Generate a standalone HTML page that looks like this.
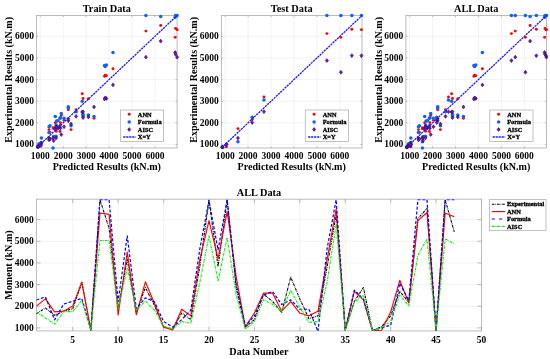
<!DOCTYPE html>
<html><head><meta charset="utf-8"><title>Results</title>
<style>
html,body{margin:0;padding:0;background:#fff;overflow:hidden;}
svg{display:block;}
text{font-family:"Liberation Serif", "Times New Roman", serif;font-weight:bold;fill:#000000;}
.tk{font-size:9.5px;}
.ttl{font-size:10.3px;}
.lab{font-size:10.1px;}
.lg{font-size:6.4px;stroke:#000;stroke-width:0.3px;}
</style></head><body>
<svg width="550" height="359" viewBox="0 0 550 359">
<rect width="550" height="359" fill="#fff"/>
<line x1="40.28" y1="15.5" x2="40.28" y2="148.0" stroke="#ebebeb" stroke-width="0.6"/>
<line x1="36.5" y1="144.43" x2="177.10" y2="144.43" stroke="#ebebeb" stroke-width="0.6"/>
<line x1="63.22" y1="15.5" x2="63.22" y2="148.0" stroke="#ebebeb" stroke-width="0.6"/>
<line x1="36.5" y1="122.82" x2="177.10" y2="122.82" stroke="#ebebeb" stroke-width="0.6"/>
<line x1="86.16" y1="15.5" x2="86.16" y2="148.0" stroke="#ebebeb" stroke-width="0.6"/>
<line x1="36.5" y1="101.20" x2="177.10" y2="101.20" stroke="#ebebeb" stroke-width="0.6"/>
<line x1="109.09" y1="15.5" x2="109.09" y2="148.0" stroke="#ebebeb" stroke-width="0.6"/>
<line x1="36.5" y1="79.59" x2="177.10" y2="79.59" stroke="#ebebeb" stroke-width="0.6"/>
<line x1="132.03" y1="15.5" x2="132.03" y2="148.0" stroke="#ebebeb" stroke-width="0.6"/>
<line x1="36.5" y1="57.97" x2="177.10" y2="57.97" stroke="#ebebeb" stroke-width="0.6"/>
<line x1="154.97" y1="15.5" x2="154.97" y2="148.0" stroke="#ebebeb" stroke-width="0.6"/>
<line x1="36.5" y1="36.36" x2="177.10" y2="36.36" stroke="#ebebeb" stroke-width="0.6"/>
<rect x="36.5" y="15.5" width="140.6" height="132.5" fill="none" stroke="#b4b4b4" stroke-width="0.9"/>
<path d="M40.28 148.0v-1.5M40.28 15.5v1.5M36.5 144.43h1.5M177.10 144.43h-1.5" stroke="#a0a0a0" stroke-width="0.7"/>
<path d="M63.22 148.0v-1.5M63.22 15.5v1.5M36.5 122.82h1.5M177.10 122.82h-1.5" stroke="#a0a0a0" stroke-width="0.7"/>
<path d="M86.16 148.0v-1.5M86.16 15.5v1.5M36.5 101.20h1.5M177.10 101.20h-1.5" stroke="#a0a0a0" stroke-width="0.7"/>
<path d="M109.09 148.0v-1.5M109.09 15.5v1.5M36.5 79.59h1.5M177.10 79.59h-1.5" stroke="#a0a0a0" stroke-width="0.7"/>
<path d="M132.03 148.0v-1.5M132.03 15.5v1.5M36.5 57.97h1.5M177.10 57.97h-1.5" stroke="#a0a0a0" stroke-width="0.7"/>
<path d="M154.97 148.0v-1.5M154.97 15.5v1.5M36.5 36.36h1.5M177.10 36.36h-1.5" stroke="#a0a0a0" stroke-width="0.7"/>
<text x="40.28" y="158.60" text-anchor="middle" class="tk">1000</text>
<text x="33.90" y="147.43" text-anchor="end" class="tk">1000</text>
<text x="63.22" y="158.60" text-anchor="middle" class="tk">2000</text>
<text x="33.90" y="125.82" text-anchor="end" class="tk">2000</text>
<text x="86.16" y="158.60" text-anchor="middle" class="tk">3000</text>
<text x="33.90" y="104.20" text-anchor="end" class="tk">3000</text>
<text x="109.09" y="158.60" text-anchor="middle" class="tk">4000</text>
<text x="33.90" y="82.59" text-anchor="end" class="tk">4000</text>
<text x="132.03" y="158.60" text-anchor="middle" class="tk">5000</text>
<text x="33.90" y="60.97" text-anchor="end" class="tk">5000</text>
<text x="154.97" y="158.60" text-anchor="middle" class="tk">6000</text>
<text x="33.90" y="39.36" text-anchor="end" class="tk">6000</text>
<text x="106.80" y="12.2" text-anchor="middle" class="ttl">Train Data</text>
<text x="106.80" y="170.3" text-anchor="middle" class="lab">Predicted Results (kN.m)</text>
<text transform="translate(12.10,79.8) rotate(-90)" text-anchor="middle" class="lab">Experimental Results (kN.m)</text>
<circle cx="55.28" cy="122.67" r="1.45" fill="#ff0000"/>
<circle cx="61.27" cy="115.49" r="1.45" fill="#ff0000"/>
<circle cx="53.66" cy="128.46" r="1.45" fill="#ff0000"/>
<circle cx="58.04" cy="127.70" r="1.45" fill="#ff0000"/>
<circle cx="60.47" cy="122.67" r="1.45" fill="#ff0000"/>
<circle cx="88.41" cy="98.70" r="1.45" fill="#ff0000"/>
<circle cx="37.76" cy="146.81" r="1.45" fill="#ff0000"/>
<circle cx="177.10" cy="29.79" r="1.45" fill="#ff0000"/>
<circle cx="145.88" cy="31.11" r="1.45" fill="#ff0000"/>
<circle cx="60.01" cy="131.46" r="1.45" fill="#ff0000"/>
<circle cx="112.99" cy="68.74" r="1.45" fill="#ff0000"/>
<circle cx="56.20" cy="131.29" r="1.45" fill="#ff0000"/>
<circle cx="83.06" cy="98.46" r="1.45" fill="#ff0000"/>
<circle cx="64.05" cy="120.16" r="1.45" fill="#ff0000"/>
<circle cx="41.43" cy="143.72" r="1.45" fill="#ff0000"/>
<circle cx="39.05" cy="146.57" r="1.45" fill="#ff0000"/>
<circle cx="56.04" cy="125.82" r="1.45" fill="#ff0000"/>
<circle cx="49.05" cy="132.42" r="1.45" fill="#ff0000"/>
<circle cx="106.34" cy="75.81" r="1.45" fill="#ff0000"/>
<circle cx="175.15" cy="37.35" r="1.45" fill="#ff0000"/>
<circle cx="105.19" cy="75.31" r="1.45" fill="#ff0000"/>
<circle cx="175.61" cy="28.47" r="1.45" fill="#ff0000"/>
<circle cx="82.21" cy="93.70" r="1.45" fill="#ff0000"/>
<circle cx="41.04" cy="143.35" r="1.45" fill="#ff0000"/>
<circle cx="49.05" cy="129.58" r="1.45" fill="#ff0000"/>
<circle cx="76.07" cy="109.78" r="1.45" fill="#ff0000"/>
<circle cx="68.31" cy="109.70" r="1.45" fill="#ff0000"/>
<circle cx="56.64" cy="127.70" r="1.45" fill="#ff0000"/>
<circle cx="94.02" cy="118.28" r="1.45" fill="#ff0000"/>
<circle cx="71.02" cy="129.58" r="1.45" fill="#ff0000"/>
<circle cx="50.03" cy="132.42" r="1.45" fill="#ff0000"/>
<circle cx="53.04" cy="127.70" r="1.45" fill="#ff0000"/>
<circle cx="104.51" cy="76.35" r="1.45" fill="#ff0000"/>
<circle cx="160.70" cy="25.55" r="1.45" fill="#ff0000"/>
<circle cx="38.06" cy="146.53" r="1.45" fill="#ff0000"/>
<circle cx="68.31" cy="107.90" r="1.45" fill="#ff0000"/>
<circle cx="83.06" cy="116.40" r="1.45" fill="#ff0000"/>
<circle cx="55.28" cy="116.55" r="1.75" fill="#1060ff"/>
<circle cx="61.27" cy="113.50" r="1.75" fill="#1060ff"/>
<circle cx="53.66" cy="136.41" r="1.75" fill="#1060ff"/>
<circle cx="58.04" cy="120.66" r="1.75" fill="#1060ff"/>
<circle cx="60.47" cy="117.78" r="1.75" fill="#1060ff"/>
<circle cx="88.41" cy="115.04" r="1.75" fill="#1060ff"/>
<circle cx="37.76" cy="146.81" r="1.75" fill="#1060ff"/>
<circle cx="177.10" cy="15.50" r="1.75" fill="#1060ff"/>
<circle cx="145.88" cy="15.50" r="1.75" fill="#1060ff"/>
<circle cx="60.01" cy="118.28" r="1.75" fill="#1060ff"/>
<circle cx="112.99" cy="52.50" r="1.75" fill="#1060ff"/>
<circle cx="56.20" cy="125.11" r="1.75" fill="#1060ff"/>
<circle cx="83.06" cy="114.50" r="1.75" fill="#1060ff"/>
<circle cx="64.05" cy="118.28" r="1.75" fill="#1060ff"/>
<circle cx="41.43" cy="138.06" r="1.75" fill="#1060ff"/>
<circle cx="39.05" cy="143.72" r="1.75" fill="#1060ff"/>
<circle cx="56.04" cy="136.18" r="1.75" fill="#1060ff"/>
<circle cx="49.05" cy="126.75" r="1.75" fill="#1060ff"/>
<circle cx="106.34" cy="65.00" r="1.75" fill="#1060ff"/>
<circle cx="175.15" cy="17.16" r="1.75" fill="#1060ff"/>
<circle cx="105.19" cy="66.62" r="1.75" fill="#1060ff"/>
<circle cx="175.61" cy="15.50" r="1.75" fill="#1060ff"/>
<circle cx="82.21" cy="101.20" r="1.75" fill="#1060ff"/>
<circle cx="41.04" cy="142.77" r="1.75" fill="#1060ff"/>
<circle cx="49.05" cy="132.42" r="1.75" fill="#1060ff"/>
<circle cx="76.07" cy="111.69" r="1.75" fill="#1060ff"/>
<circle cx="68.31" cy="108.10" r="1.75" fill="#1060ff"/>
<circle cx="56.64" cy="121.11" r="1.75" fill="#1060ff"/>
<circle cx="94.02" cy="116.40" r="1.75" fill="#1060ff"/>
<circle cx="71.02" cy="125.82" r="1.75" fill="#1060ff"/>
<circle cx="50.03" cy="125.82" r="1.75" fill="#1060ff"/>
<circle cx="53.04" cy="148.00" r="1.75" fill="#1060ff"/>
<circle cx="104.51" cy="65.54" r="1.75" fill="#1060ff"/>
<circle cx="160.70" cy="16.60" r="1.75" fill="#1060ff"/>
<circle cx="38.06" cy="146.53" r="1.75" fill="#1060ff"/>
<circle cx="68.31" cy="106.69" r="1.75" fill="#1060ff"/>
<circle cx="83.06" cy="115.45" r="1.75" fill="#1060ff"/>
<path d="M55.28 126.56L56.80 128.46L55.28 130.36L53.76 128.46Z" fill="#7414c8" stroke="#2a0a4a" stroke-width="0.6"/>
<path d="M61.27 132.68L62.79 134.58L61.27 136.48L59.75 134.58Z" fill="#7414c8" stroke="#2a0a4a" stroke-width="0.6"/>
<path d="M53.66 138.77L55.18 140.67L53.66 142.57L52.14 140.67Z" fill="#7414c8" stroke="#2a0a4a" stroke-width="0.6"/>
<path d="M58.04 126.26L59.56 128.16L58.04 130.06L56.52 128.16Z" fill="#7414c8" stroke="#2a0a4a" stroke-width="0.6"/>
<path d="M60.47 126.26L61.99 128.16L60.47 130.06L58.95 128.16Z" fill="#7414c8" stroke="#2a0a4a" stroke-width="0.6"/>
<path d="M88.41 115.13L89.93 117.03L88.41 118.93L86.89 117.03Z" fill="#7414c8" stroke="#2a0a4a" stroke-width="0.6"/>
<path d="M37.76 144.91L39.28 146.81L37.76 148.71L36.24 146.81Z" fill="#7414c8" stroke="#2a0a4a" stroke-width="0.6"/>
<path d="M177.10 55.25L178.62 57.15L177.10 59.05L175.58 57.15Z" fill="#7414c8" stroke="#2a0a4a" stroke-width="0.6"/>
<path d="M145.88 55.25L147.40 57.15L145.88 59.05L144.36 57.15Z" fill="#7414c8" stroke="#2a0a4a" stroke-width="0.6"/>
<path d="M60.01 123.92L61.53 125.82L60.01 127.72L58.49 125.82Z" fill="#7414c8" stroke="#2a0a4a" stroke-width="0.6"/>
<path d="M112.99 83.07L114.51 84.97L112.99 86.87L111.47 84.97Z" fill="#7414c8" stroke="#2a0a4a" stroke-width="0.6"/>
<path d="M56.20 124.87L57.72 126.77L56.20 128.67L54.68 126.77Z" fill="#7414c8" stroke="#2a0a4a" stroke-width="0.6"/>
<path d="M83.06 115.82L84.58 117.72L83.06 119.62L81.54 117.72Z" fill="#7414c8" stroke="#2a0a4a" stroke-width="0.6"/>
<path d="M64.05 124.85L65.57 126.75L64.05 128.65L62.53 126.75Z" fill="#7414c8" stroke="#2a0a4a" stroke-width="0.6"/>
<path d="M41.43 140.87L42.95 142.77L41.43 144.67L39.91 142.77Z" fill="#7414c8" stroke="#2a0a4a" stroke-width="0.6"/>
<path d="M39.05 143.70L40.57 145.60L39.05 147.50L37.53 145.60Z" fill="#7414c8" stroke="#2a0a4a" stroke-width="0.6"/>
<path d="M56.04 136.16L57.56 138.06L56.04 139.96L54.52 138.06Z" fill="#7414c8" stroke="#2a0a4a" stroke-width="0.6"/>
<path d="M49.05 138.06L50.57 139.96L49.05 141.86L47.53 139.96Z" fill="#7414c8" stroke="#2a0a4a" stroke-width="0.6"/>
<path d="M106.34 96.60L107.86 98.50L106.34 100.40L104.82 98.50Z" fill="#7414c8" stroke="#2a0a4a" stroke-width="0.6"/>
<path d="M175.15 50.52L176.67 52.42L175.15 54.32L173.63 52.42Z" fill="#7414c8" stroke="#2a0a4a" stroke-width="0.6"/>
<path d="M105.19 95.91L106.71 97.81L105.19 99.71L103.67 97.81Z" fill="#7414c8" stroke="#2a0a4a" stroke-width="0.6"/>
<path d="M175.61 52.40L177.13 54.30L175.61 56.20L174.09 54.30Z" fill="#7414c8" stroke="#2a0a4a" stroke-width="0.6"/>
<path d="M82.21 110.11L83.73 112.01L82.21 113.91L80.69 112.01Z" fill="#7414c8" stroke="#2a0a4a" stroke-width="0.6"/>
<path d="M41.04 143.70L42.56 145.60L41.04 147.50L39.52 145.60Z" fill="#7414c8" stroke="#2a0a4a" stroke-width="0.6"/>
<path d="M49.05 136.16L50.57 138.06L49.05 139.96L47.53 138.06Z" fill="#7414c8" stroke="#2a0a4a" stroke-width="0.6"/>
<path d="M76.07 114.50L77.59 116.40L76.07 118.30L74.55 116.40Z" fill="#7414c8" stroke="#2a0a4a" stroke-width="0.6"/>
<path d="M68.31 118.97L69.83 120.87L68.31 122.77L66.79 120.87Z" fill="#7414c8" stroke="#2a0a4a" stroke-width="0.6"/>
<path d="M56.64 125.80L58.16 127.70L56.64 129.60L55.12 127.70Z" fill="#7414c8" stroke="#2a0a4a" stroke-width="0.6"/>
<path d="M94.02 105.07L95.54 106.97L94.02 108.87L92.50 106.97Z" fill="#7414c8" stroke="#2a0a4a" stroke-width="0.6"/>
<path d="M71.02 122.04L72.54 123.94L71.02 125.84L69.50 123.94Z" fill="#7414c8" stroke="#2a0a4a" stroke-width="0.6"/>
<path d="M50.03 137.11L51.55 139.01L50.03 140.91L48.51 139.01Z" fill="#7414c8" stroke="#2a0a4a" stroke-width="0.6"/>
<path d="M53.04 136.16L54.56 138.06L53.04 139.96L51.52 138.06Z" fill="#7414c8" stroke="#2a0a4a" stroke-width="0.6"/>
<path d="M104.51 97.14L106.03 99.04L104.51 100.94L102.99 99.04Z" fill="#7414c8" stroke="#2a0a4a" stroke-width="0.6"/>
<path d="M160.70 39.21L162.22 41.11L160.70 43.01L159.18 41.11Z" fill="#7414c8" stroke="#2a0a4a" stroke-width="0.6"/>
<path d="M38.06 144.63L39.58 146.53L38.06 148.43L36.54 146.53Z" fill="#7414c8" stroke="#2a0a4a" stroke-width="0.6"/>
<path d="M68.31 116.90L69.83 118.80L68.31 120.70L66.79 118.80Z" fill="#7414c8" stroke="#2a0a4a" stroke-width="0.6"/>
<path d="M83.06 109.79L84.58 111.69L83.06 113.59L81.54 111.69Z" fill="#7414c8" stroke="#2a0a4a" stroke-width="0.6"/>
<line x1="36.5" y1="148.0" x2="177.10" y2="15.5" stroke="#1a1aff" stroke-width="1.3" stroke-dasharray="2.2 0.8"/>
<rect x="120.40" y="110.0" width="43.2" height="31.5" fill="#fff" stroke="#b4b4b4" stroke-width="0.8"/>
<circle cx="129.20" cy="114.30" r="1.45" fill="#ff0000"/>
<circle cx="129.20" cy="121.90" r="1.75" fill="#1060ff"/>
<path d="M129.20 127.60L130.72 129.50L129.20 131.40L127.68 129.50Z" fill="#7414c8" stroke="#2a0a4a" stroke-width="0.6"/>
<line x1="123.20" y1="137.0" x2="135.70" y2="137.0" stroke="#1a1aff" stroke-width="1.3" stroke-dasharray="2.2 0.8"/>
<text x="137.80" y="116.50" class="lg">ANN</text>
<text x="137.80" y="124.10" class="lg">Formula</text>
<text x="137.80" y="131.70" class="lg">AISC</text>
<text x="137.80" y="139.20" class="lg">X=Y</text>
<line x1="225.18" y1="15.5" x2="225.18" y2="148.0" stroke="#ebebeb" stroke-width="0.6"/>
<line x1="221.4" y1="144.43" x2="362.00" y2="144.43" stroke="#ebebeb" stroke-width="0.6"/>
<line x1="248.12" y1="15.5" x2="248.12" y2="148.0" stroke="#ebebeb" stroke-width="0.6"/>
<line x1="221.4" y1="122.82" x2="362.00" y2="122.82" stroke="#ebebeb" stroke-width="0.6"/>
<line x1="271.06" y1="15.5" x2="271.06" y2="148.0" stroke="#ebebeb" stroke-width="0.6"/>
<line x1="221.4" y1="101.20" x2="362.00" y2="101.20" stroke="#ebebeb" stroke-width="0.6"/>
<line x1="293.99" y1="15.5" x2="293.99" y2="148.0" stroke="#ebebeb" stroke-width="0.6"/>
<line x1="221.4" y1="79.59" x2="362.00" y2="79.59" stroke="#ebebeb" stroke-width="0.6"/>
<line x1="316.93" y1="15.5" x2="316.93" y2="148.0" stroke="#ebebeb" stroke-width="0.6"/>
<line x1="221.4" y1="57.97" x2="362.00" y2="57.97" stroke="#ebebeb" stroke-width="0.6"/>
<line x1="339.87" y1="15.5" x2="339.87" y2="148.0" stroke="#ebebeb" stroke-width="0.6"/>
<line x1="221.4" y1="36.36" x2="362.00" y2="36.36" stroke="#ebebeb" stroke-width="0.6"/>
<rect x="221.4" y="15.5" width="140.6" height="132.5" fill="none" stroke="#b4b4b4" stroke-width="0.9"/>
<path d="M225.18 148.0v-1.5M225.18 15.5v1.5M221.4 144.43h1.5M362.00 144.43h-1.5" stroke="#a0a0a0" stroke-width="0.7"/>
<path d="M248.12 148.0v-1.5M248.12 15.5v1.5M221.4 122.82h1.5M362.00 122.82h-1.5" stroke="#a0a0a0" stroke-width="0.7"/>
<path d="M271.06 148.0v-1.5M271.06 15.5v1.5M221.4 101.20h1.5M362.00 101.20h-1.5" stroke="#a0a0a0" stroke-width="0.7"/>
<path d="M293.99 148.0v-1.5M293.99 15.5v1.5M221.4 79.59h1.5M362.00 79.59h-1.5" stroke="#a0a0a0" stroke-width="0.7"/>
<path d="M316.93 148.0v-1.5M316.93 15.5v1.5M221.4 57.97h1.5M362.00 57.97h-1.5" stroke="#a0a0a0" stroke-width="0.7"/>
<path d="M339.87 148.0v-1.5M339.87 15.5v1.5M221.4 36.36h1.5M362.00 36.36h-1.5" stroke="#a0a0a0" stroke-width="0.7"/>
<text x="225.18" y="158.60" text-anchor="middle" class="tk">1000</text>
<text x="218.80" y="147.43" text-anchor="end" class="tk">1000</text>
<text x="248.12" y="158.60" text-anchor="middle" class="tk">2000</text>
<text x="218.80" y="125.82" text-anchor="end" class="tk">2000</text>
<text x="271.06" y="158.60" text-anchor="middle" class="tk">3000</text>
<text x="218.80" y="104.20" text-anchor="end" class="tk">3000</text>
<text x="293.99" y="158.60" text-anchor="middle" class="tk">4000</text>
<text x="218.80" y="82.59" text-anchor="end" class="tk">4000</text>
<text x="316.93" y="158.60" text-anchor="middle" class="tk">5000</text>
<text x="218.80" y="60.97" text-anchor="end" class="tk">5000</text>
<text x="339.87" y="158.60" text-anchor="middle" class="tk">6000</text>
<text x="218.80" y="39.36" text-anchor="end" class="tk">6000</text>
<text x="291.70" y="12.2" text-anchor="middle" class="ttl">Test Data</text>
<text x="291.70" y="170.3" text-anchor="middle" class="lab">Predicted Results (kN.m)</text>
<text transform="translate(197.00,79.8) rotate(-90)" text-anchor="middle" class="lab">Experimental Results (kN.m)</text>
<circle cx="222.32" cy="147.24" r="1.45" fill="#ff0000"/>
<circle cx="226.40" cy="146.81" r="1.45" fill="#ff0000"/>
<circle cx="237.94" cy="128.65" r="1.45" fill="#ff0000"/>
<circle cx="263.95" cy="96.97" r="1.45" fill="#ff0000"/>
<circle cx="252.20" cy="119.51" r="1.45" fill="#ff0000"/>
<circle cx="340.90" cy="37.33" r="1.45" fill="#ff0000"/>
<circle cx="351.84" cy="29.23" r="1.45" fill="#ff0000"/>
<circle cx="222.43" cy="147.14" r="1.45" fill="#ff0000"/>
<circle cx="361.43" cy="29.81" r="1.45" fill="#ff0000"/>
<circle cx="326.91" cy="33.59" r="1.45" fill="#ff0000"/>
<circle cx="222.32" cy="147.35" r="1.75" fill="#1060ff"/>
<circle cx="226.40" cy="144.22" r="1.75" fill="#1060ff"/>
<circle cx="237.94" cy="141.84" r="1.75" fill="#1060ff"/>
<circle cx="263.95" cy="99.91" r="1.75" fill="#1060ff"/>
<circle cx="252.20" cy="117.20" r="1.75" fill="#1060ff"/>
<circle cx="340.90" cy="15.50" r="1.75" fill="#1060ff"/>
<circle cx="351.84" cy="15.50" r="1.75" fill="#1060ff"/>
<circle cx="222.43" cy="147.24" r="1.75" fill="#1060ff"/>
<circle cx="361.43" cy="15.50" r="1.75" fill="#1060ff"/>
<circle cx="326.91" cy="15.50" r="1.75" fill="#1060ff"/>
<path d="M222.32 145.34L223.84 147.24L222.32 149.14L220.80 147.24Z" fill="#7414c8" stroke="#2a0a4a" stroke-width="0.6"/>
<path d="M226.40 142.51L227.92 144.41L226.40 146.31L224.88 144.41Z" fill="#7414c8" stroke="#2a0a4a" stroke-width="0.6"/>
<path d="M237.94 136.16L239.46 138.06L237.94 139.96L236.42 138.06Z" fill="#7414c8" stroke="#2a0a4a" stroke-width="0.6"/>
<path d="M263.95 109.79L265.47 111.69L263.95 113.59L262.43 111.69Z" fill="#7414c8" stroke="#2a0a4a" stroke-width="0.6"/>
<path d="M252.20 120.70L253.72 122.60L252.20 124.50L250.68 122.60Z" fill="#7414c8" stroke="#2a0a4a" stroke-width="0.6"/>
<path d="M340.90 70.34L342.42 72.24L340.90 74.14L339.38 72.24Z" fill="#7414c8" stroke="#2a0a4a" stroke-width="0.6"/>
<path d="M351.84 53.74L353.36 55.64L351.84 57.54L350.32 55.64Z" fill="#7414c8" stroke="#2a0a4a" stroke-width="0.6"/>
<path d="M222.43 145.13L223.95 147.03L222.43 148.93L220.91 147.03Z" fill="#7414c8" stroke="#2a0a4a" stroke-width="0.6"/>
<path d="M361.43 53.74L362.95 55.64L361.43 57.54L359.91 55.64Z" fill="#7414c8" stroke="#2a0a4a" stroke-width="0.6"/>
<path d="M326.91 58.67L328.43 60.57L326.91 62.47L325.39 60.57Z" fill="#7414c8" stroke="#2a0a4a" stroke-width="0.6"/>
<line x1="221.4" y1="148.0" x2="362.00" y2="15.5" stroke="#1a1aff" stroke-width="1.3" stroke-dasharray="2.2 0.8"/>
<rect x="305.30" y="110.0" width="43.2" height="31.5" fill="#fff" stroke="#b4b4b4" stroke-width="0.8"/>
<circle cx="314.10" cy="114.30" r="1.45" fill="#ff0000"/>
<circle cx="314.10" cy="121.90" r="1.75" fill="#1060ff"/>
<path d="M314.10 127.60L315.62 129.50L314.10 131.40L312.58 129.50Z" fill="#7414c8" stroke="#2a0a4a" stroke-width="0.6"/>
<line x1="308.10" y1="137.0" x2="320.60" y2="137.0" stroke="#1a1aff" stroke-width="1.3" stroke-dasharray="2.2 0.8"/>
<text x="322.70" y="116.50" class="lg">ANN</text>
<text x="322.70" y="124.10" class="lg">Formula</text>
<text x="322.70" y="131.70" class="lg">AISC</text>
<text x="322.70" y="139.20" class="lg">X=Y</text>
<line x1="409.68" y1="15.5" x2="409.68" y2="148.0" stroke="#ebebeb" stroke-width="0.6"/>
<line x1="405.9" y1="144.43" x2="546.50" y2="144.43" stroke="#ebebeb" stroke-width="0.6"/>
<line x1="432.62" y1="15.5" x2="432.62" y2="148.0" stroke="#ebebeb" stroke-width="0.6"/>
<line x1="405.9" y1="122.82" x2="546.50" y2="122.82" stroke="#ebebeb" stroke-width="0.6"/>
<line x1="455.56" y1="15.5" x2="455.56" y2="148.0" stroke="#ebebeb" stroke-width="0.6"/>
<line x1="405.9" y1="101.20" x2="546.50" y2="101.20" stroke="#ebebeb" stroke-width="0.6"/>
<line x1="478.49" y1="15.5" x2="478.49" y2="148.0" stroke="#ebebeb" stroke-width="0.6"/>
<line x1="405.9" y1="79.59" x2="546.50" y2="79.59" stroke="#ebebeb" stroke-width="0.6"/>
<line x1="501.43" y1="15.5" x2="501.43" y2="148.0" stroke="#ebebeb" stroke-width="0.6"/>
<line x1="405.9" y1="57.97" x2="546.50" y2="57.97" stroke="#ebebeb" stroke-width="0.6"/>
<line x1="524.37" y1="15.5" x2="524.37" y2="148.0" stroke="#ebebeb" stroke-width="0.6"/>
<line x1="405.9" y1="36.36" x2="546.50" y2="36.36" stroke="#ebebeb" stroke-width="0.6"/>
<rect x="405.9" y="15.5" width="140.6" height="132.5" fill="none" stroke="#b4b4b4" stroke-width="0.9"/>
<path d="M409.68 148.0v-1.5M409.68 15.5v1.5M405.9 144.43h1.5M546.50 144.43h-1.5" stroke="#a0a0a0" stroke-width="0.7"/>
<path d="M432.62 148.0v-1.5M432.62 15.5v1.5M405.9 122.82h1.5M546.50 122.82h-1.5" stroke="#a0a0a0" stroke-width="0.7"/>
<path d="M455.56 148.0v-1.5M455.56 15.5v1.5M405.9 101.20h1.5M546.50 101.20h-1.5" stroke="#a0a0a0" stroke-width="0.7"/>
<path d="M478.49 148.0v-1.5M478.49 15.5v1.5M405.9 79.59h1.5M546.50 79.59h-1.5" stroke="#a0a0a0" stroke-width="0.7"/>
<path d="M501.43 148.0v-1.5M501.43 15.5v1.5M405.9 57.97h1.5M546.50 57.97h-1.5" stroke="#a0a0a0" stroke-width="0.7"/>
<path d="M524.37 148.0v-1.5M524.37 15.5v1.5M405.9 36.36h1.5M546.50 36.36h-1.5" stroke="#a0a0a0" stroke-width="0.7"/>
<text x="409.68" y="158.60" text-anchor="middle" class="tk">1000</text>
<text x="403.30" y="147.43" text-anchor="end" class="tk">1000</text>
<text x="432.62" y="158.60" text-anchor="middle" class="tk">2000</text>
<text x="403.30" y="125.82" text-anchor="end" class="tk">2000</text>
<text x="455.56" y="158.60" text-anchor="middle" class="tk">3000</text>
<text x="403.30" y="104.20" text-anchor="end" class="tk">3000</text>
<text x="478.49" y="158.60" text-anchor="middle" class="tk">4000</text>
<text x="403.30" y="82.59" text-anchor="end" class="tk">4000</text>
<text x="501.43" y="158.60" text-anchor="middle" class="tk">5000</text>
<text x="403.30" y="60.97" text-anchor="end" class="tk">5000</text>
<text x="524.37" y="158.60" text-anchor="middle" class="tk">6000</text>
<text x="403.30" y="39.36" text-anchor="end" class="tk">6000</text>
<text x="476.20" y="12.2" text-anchor="middle" class="ttl">ALL Data</text>
<text x="476.20" y="170.3" text-anchor="middle" class="lab">Predicted Results (kN.m)</text>
<text transform="translate(381.50,79.8) rotate(-90)" text-anchor="middle" class="lab">Experimental Results (kN.m)</text>
<circle cx="424.68" cy="122.67" r="1.45" fill="#ff0000"/>
<circle cx="430.67" cy="115.49" r="1.45" fill="#ff0000"/>
<circle cx="423.06" cy="128.46" r="1.45" fill="#ff0000"/>
<circle cx="427.44" cy="127.70" r="1.45" fill="#ff0000"/>
<circle cx="429.87" cy="122.67" r="1.45" fill="#ff0000"/>
<circle cx="457.81" cy="98.70" r="1.45" fill="#ff0000"/>
<circle cx="407.16" cy="146.81" r="1.45" fill="#ff0000"/>
<circle cx="546.50" cy="29.79" r="1.45" fill="#ff0000"/>
<circle cx="515.28" cy="31.11" r="1.45" fill="#ff0000"/>
<circle cx="429.41" cy="131.46" r="1.45" fill="#ff0000"/>
<circle cx="482.39" cy="68.74" r="1.45" fill="#ff0000"/>
<circle cx="425.60" cy="131.29" r="1.45" fill="#ff0000"/>
<circle cx="452.46" cy="98.46" r="1.45" fill="#ff0000"/>
<circle cx="433.45" cy="120.16" r="1.45" fill="#ff0000"/>
<circle cx="410.83" cy="143.72" r="1.45" fill="#ff0000"/>
<circle cx="408.45" cy="146.57" r="1.45" fill="#ff0000"/>
<circle cx="425.44" cy="125.82" r="1.45" fill="#ff0000"/>
<circle cx="418.45" cy="132.42" r="1.45" fill="#ff0000"/>
<circle cx="475.74" cy="75.81" r="1.45" fill="#ff0000"/>
<circle cx="544.55" cy="37.35" r="1.45" fill="#ff0000"/>
<circle cx="474.59" cy="75.31" r="1.45" fill="#ff0000"/>
<circle cx="545.01" cy="28.47" r="1.45" fill="#ff0000"/>
<circle cx="451.61" cy="93.70" r="1.45" fill="#ff0000"/>
<circle cx="410.44" cy="143.35" r="1.45" fill="#ff0000"/>
<circle cx="418.45" cy="129.58" r="1.45" fill="#ff0000"/>
<circle cx="445.47" cy="109.78" r="1.45" fill="#ff0000"/>
<circle cx="437.71" cy="109.70" r="1.45" fill="#ff0000"/>
<circle cx="426.04" cy="127.70" r="1.45" fill="#ff0000"/>
<circle cx="463.42" cy="118.28" r="1.45" fill="#ff0000"/>
<circle cx="440.42" cy="129.58" r="1.45" fill="#ff0000"/>
<circle cx="419.43" cy="132.42" r="1.45" fill="#ff0000"/>
<circle cx="422.44" cy="127.70" r="1.45" fill="#ff0000"/>
<circle cx="473.91" cy="76.35" r="1.45" fill="#ff0000"/>
<circle cx="530.10" cy="25.55" r="1.45" fill="#ff0000"/>
<circle cx="407.46" cy="146.53" r="1.45" fill="#ff0000"/>
<circle cx="437.71" cy="107.90" r="1.45" fill="#ff0000"/>
<circle cx="452.46" cy="116.40" r="1.45" fill="#ff0000"/>
<circle cx="406.82" cy="147.24" r="1.45" fill="#ff0000"/>
<circle cx="410.90" cy="146.81" r="1.45" fill="#ff0000"/>
<circle cx="422.44" cy="128.65" r="1.45" fill="#ff0000"/>
<circle cx="448.45" cy="96.97" r="1.45" fill="#ff0000"/>
<circle cx="436.70" cy="119.51" r="1.45" fill="#ff0000"/>
<circle cx="525.40" cy="37.33" r="1.45" fill="#ff0000"/>
<circle cx="536.34" cy="29.23" r="1.45" fill="#ff0000"/>
<circle cx="406.93" cy="147.14" r="1.45" fill="#ff0000"/>
<circle cx="545.93" cy="29.81" r="1.45" fill="#ff0000"/>
<circle cx="511.41" cy="33.59" r="1.45" fill="#ff0000"/>
<circle cx="424.68" cy="116.55" r="1.75" fill="#1060ff"/>
<circle cx="430.67" cy="113.50" r="1.75" fill="#1060ff"/>
<circle cx="423.06" cy="136.41" r="1.75" fill="#1060ff"/>
<circle cx="427.44" cy="120.66" r="1.75" fill="#1060ff"/>
<circle cx="429.87" cy="117.78" r="1.75" fill="#1060ff"/>
<circle cx="457.81" cy="115.04" r="1.75" fill="#1060ff"/>
<circle cx="407.16" cy="146.81" r="1.75" fill="#1060ff"/>
<circle cx="546.50" cy="15.50" r="1.75" fill="#1060ff"/>
<circle cx="515.28" cy="15.50" r="1.75" fill="#1060ff"/>
<circle cx="429.41" cy="118.28" r="1.75" fill="#1060ff"/>
<circle cx="482.39" cy="52.50" r="1.75" fill="#1060ff"/>
<circle cx="425.60" cy="125.11" r="1.75" fill="#1060ff"/>
<circle cx="452.46" cy="114.50" r="1.75" fill="#1060ff"/>
<circle cx="433.45" cy="118.28" r="1.75" fill="#1060ff"/>
<circle cx="410.83" cy="138.06" r="1.75" fill="#1060ff"/>
<circle cx="408.45" cy="143.72" r="1.75" fill="#1060ff"/>
<circle cx="425.44" cy="136.18" r="1.75" fill="#1060ff"/>
<circle cx="418.45" cy="126.75" r="1.75" fill="#1060ff"/>
<circle cx="475.74" cy="65.00" r="1.75" fill="#1060ff"/>
<circle cx="544.55" cy="17.16" r="1.75" fill="#1060ff"/>
<circle cx="474.59" cy="66.62" r="1.75" fill="#1060ff"/>
<circle cx="545.01" cy="15.50" r="1.75" fill="#1060ff"/>
<circle cx="451.61" cy="101.20" r="1.75" fill="#1060ff"/>
<circle cx="410.44" cy="142.77" r="1.75" fill="#1060ff"/>
<circle cx="418.45" cy="132.42" r="1.75" fill="#1060ff"/>
<circle cx="445.47" cy="111.69" r="1.75" fill="#1060ff"/>
<circle cx="437.71" cy="108.10" r="1.75" fill="#1060ff"/>
<circle cx="426.04" cy="121.11" r="1.75" fill="#1060ff"/>
<circle cx="463.42" cy="116.40" r="1.75" fill="#1060ff"/>
<circle cx="440.42" cy="125.82" r="1.75" fill="#1060ff"/>
<circle cx="419.43" cy="125.82" r="1.75" fill="#1060ff"/>
<circle cx="422.44" cy="148.00" r="1.75" fill="#1060ff"/>
<circle cx="473.91" cy="65.54" r="1.75" fill="#1060ff"/>
<circle cx="530.10" cy="16.60" r="1.75" fill="#1060ff"/>
<circle cx="407.46" cy="146.53" r="1.75" fill="#1060ff"/>
<circle cx="437.71" cy="106.69" r="1.75" fill="#1060ff"/>
<circle cx="452.46" cy="115.45" r="1.75" fill="#1060ff"/>
<circle cx="406.82" cy="147.35" r="1.75" fill="#1060ff"/>
<circle cx="410.90" cy="144.22" r="1.75" fill="#1060ff"/>
<circle cx="422.44" cy="141.84" r="1.75" fill="#1060ff"/>
<circle cx="448.45" cy="99.91" r="1.75" fill="#1060ff"/>
<circle cx="436.70" cy="117.20" r="1.75" fill="#1060ff"/>
<circle cx="525.40" cy="15.50" r="1.75" fill="#1060ff"/>
<circle cx="536.34" cy="15.50" r="1.75" fill="#1060ff"/>
<circle cx="406.93" cy="147.24" r="1.75" fill="#1060ff"/>
<circle cx="545.93" cy="15.50" r="1.75" fill="#1060ff"/>
<circle cx="511.41" cy="15.50" r="1.75" fill="#1060ff"/>
<path d="M424.68 126.56L426.20 128.46L424.68 130.36L423.16 128.46Z" fill="#7414c8" stroke="#2a0a4a" stroke-width="0.6"/>
<path d="M430.67 132.68L432.19 134.58L430.67 136.48L429.15 134.58Z" fill="#7414c8" stroke="#2a0a4a" stroke-width="0.6"/>
<path d="M423.06 138.77L424.58 140.67L423.06 142.57L421.54 140.67Z" fill="#7414c8" stroke="#2a0a4a" stroke-width="0.6"/>
<path d="M427.44 126.26L428.96 128.16L427.44 130.06L425.92 128.16Z" fill="#7414c8" stroke="#2a0a4a" stroke-width="0.6"/>
<path d="M429.87 126.26L431.39 128.16L429.87 130.06L428.35 128.16Z" fill="#7414c8" stroke="#2a0a4a" stroke-width="0.6"/>
<path d="M457.81 115.13L459.33 117.03L457.81 118.93L456.29 117.03Z" fill="#7414c8" stroke="#2a0a4a" stroke-width="0.6"/>
<path d="M407.16 144.91L408.68 146.81L407.16 148.71L405.64 146.81Z" fill="#7414c8" stroke="#2a0a4a" stroke-width="0.6"/>
<path d="M546.50 55.25L548.02 57.15L546.50 59.05L544.98 57.15Z" fill="#7414c8" stroke="#2a0a4a" stroke-width="0.6"/>
<path d="M515.28 55.25L516.80 57.15L515.28 59.05L513.76 57.15Z" fill="#7414c8" stroke="#2a0a4a" stroke-width="0.6"/>
<path d="M429.41 123.92L430.93 125.82L429.41 127.72L427.89 125.82Z" fill="#7414c8" stroke="#2a0a4a" stroke-width="0.6"/>
<path d="M482.39 83.07L483.91 84.97L482.39 86.87L480.87 84.97Z" fill="#7414c8" stroke="#2a0a4a" stroke-width="0.6"/>
<path d="M425.60 124.87L427.12 126.77L425.60 128.67L424.08 126.77Z" fill="#7414c8" stroke="#2a0a4a" stroke-width="0.6"/>
<path d="M452.46 115.82L453.98 117.72L452.46 119.62L450.94 117.72Z" fill="#7414c8" stroke="#2a0a4a" stroke-width="0.6"/>
<path d="M433.45 124.85L434.97 126.75L433.45 128.65L431.93 126.75Z" fill="#7414c8" stroke="#2a0a4a" stroke-width="0.6"/>
<path d="M410.83 140.87L412.35 142.77L410.83 144.67L409.31 142.77Z" fill="#7414c8" stroke="#2a0a4a" stroke-width="0.6"/>
<path d="M408.45 143.70L409.97 145.60L408.45 147.50L406.93 145.60Z" fill="#7414c8" stroke="#2a0a4a" stroke-width="0.6"/>
<path d="M425.44 136.16L426.96 138.06L425.44 139.96L423.92 138.06Z" fill="#7414c8" stroke="#2a0a4a" stroke-width="0.6"/>
<path d="M418.45 138.06L419.97 139.96L418.45 141.86L416.93 139.96Z" fill="#7414c8" stroke="#2a0a4a" stroke-width="0.6"/>
<path d="M475.74 96.60L477.26 98.50L475.74 100.40L474.22 98.50Z" fill="#7414c8" stroke="#2a0a4a" stroke-width="0.6"/>
<path d="M544.55 50.52L546.07 52.42L544.55 54.32L543.03 52.42Z" fill="#7414c8" stroke="#2a0a4a" stroke-width="0.6"/>
<path d="M474.59 95.91L476.11 97.81L474.59 99.71L473.07 97.81Z" fill="#7414c8" stroke="#2a0a4a" stroke-width="0.6"/>
<path d="M545.01 52.40L546.53 54.30L545.01 56.20L543.49 54.30Z" fill="#7414c8" stroke="#2a0a4a" stroke-width="0.6"/>
<path d="M451.61 110.11L453.13 112.01L451.61 113.91L450.09 112.01Z" fill="#7414c8" stroke="#2a0a4a" stroke-width="0.6"/>
<path d="M410.44 143.70L411.96 145.60L410.44 147.50L408.92 145.60Z" fill="#7414c8" stroke="#2a0a4a" stroke-width="0.6"/>
<path d="M418.45 136.16L419.97 138.06L418.45 139.96L416.93 138.06Z" fill="#7414c8" stroke="#2a0a4a" stroke-width="0.6"/>
<path d="M445.47 114.50L446.99 116.40L445.47 118.30L443.95 116.40Z" fill="#7414c8" stroke="#2a0a4a" stroke-width="0.6"/>
<path d="M437.71 118.97L439.23 120.87L437.71 122.77L436.19 120.87Z" fill="#7414c8" stroke="#2a0a4a" stroke-width="0.6"/>
<path d="M426.04 125.80L427.56 127.70L426.04 129.60L424.52 127.70Z" fill="#7414c8" stroke="#2a0a4a" stroke-width="0.6"/>
<path d="M463.42 105.07L464.94 106.97L463.42 108.87L461.90 106.97Z" fill="#7414c8" stroke="#2a0a4a" stroke-width="0.6"/>
<path d="M440.42 122.04L441.94 123.94L440.42 125.84L438.90 123.94Z" fill="#7414c8" stroke="#2a0a4a" stroke-width="0.6"/>
<path d="M419.43 137.11L420.95 139.01L419.43 140.91L417.91 139.01Z" fill="#7414c8" stroke="#2a0a4a" stroke-width="0.6"/>
<path d="M422.44 136.16L423.96 138.06L422.44 139.96L420.92 138.06Z" fill="#7414c8" stroke="#2a0a4a" stroke-width="0.6"/>
<path d="M473.91 97.14L475.43 99.04L473.91 100.94L472.39 99.04Z" fill="#7414c8" stroke="#2a0a4a" stroke-width="0.6"/>
<path d="M530.10 39.21L531.62 41.11L530.10 43.01L528.58 41.11Z" fill="#7414c8" stroke="#2a0a4a" stroke-width="0.6"/>
<path d="M407.46 144.63L408.98 146.53L407.46 148.43L405.94 146.53Z" fill="#7414c8" stroke="#2a0a4a" stroke-width="0.6"/>
<path d="M437.71 116.90L439.23 118.80L437.71 120.70L436.19 118.80Z" fill="#7414c8" stroke="#2a0a4a" stroke-width="0.6"/>
<path d="M452.46 109.79L453.98 111.69L452.46 113.59L450.94 111.69Z" fill="#7414c8" stroke="#2a0a4a" stroke-width="0.6"/>
<path d="M406.82 145.34L408.34 147.24L406.82 149.14L405.30 147.24Z" fill="#7414c8" stroke="#2a0a4a" stroke-width="0.6"/>
<path d="M410.90 142.51L412.42 144.41L410.90 146.31L409.38 144.41Z" fill="#7414c8" stroke="#2a0a4a" stroke-width="0.6"/>
<path d="M422.44 136.16L423.96 138.06L422.44 139.96L420.92 138.06Z" fill="#7414c8" stroke="#2a0a4a" stroke-width="0.6"/>
<path d="M448.45 109.79L449.97 111.69L448.45 113.59L446.93 111.69Z" fill="#7414c8" stroke="#2a0a4a" stroke-width="0.6"/>
<path d="M436.70 120.70L438.22 122.60L436.70 124.50L435.18 122.60Z" fill="#7414c8" stroke="#2a0a4a" stroke-width="0.6"/>
<path d="M525.40 70.34L526.92 72.24L525.40 74.14L523.88 72.24Z" fill="#7414c8" stroke="#2a0a4a" stroke-width="0.6"/>
<path d="M536.34 53.74L537.86 55.64L536.34 57.54L534.82 55.64Z" fill="#7414c8" stroke="#2a0a4a" stroke-width="0.6"/>
<path d="M406.93 145.13L408.45 147.03L406.93 148.93L405.41 147.03Z" fill="#7414c8" stroke="#2a0a4a" stroke-width="0.6"/>
<path d="M545.93 53.74L547.45 55.64L545.93 57.54L544.41 55.64Z" fill="#7414c8" stroke="#2a0a4a" stroke-width="0.6"/>
<path d="M511.41 58.67L512.93 60.57L511.41 62.47L509.89 60.57Z" fill="#7414c8" stroke="#2a0a4a" stroke-width="0.6"/>
<line x1="405.9" y1="148.0" x2="546.50" y2="15.5" stroke="#1a1aff" stroke-width="1.3" stroke-dasharray="2.2 0.8"/>
<rect x="489.80" y="110.0" width="43.2" height="31.5" fill="#fff" stroke="#b4b4b4" stroke-width="0.8"/>
<circle cx="498.60" cy="114.30" r="1.45" fill="#ff0000"/>
<circle cx="498.60" cy="121.90" r="1.75" fill="#1060ff"/>
<path d="M498.60 127.60L500.12 129.50L498.60 131.40L497.08 129.50Z" fill="#7414c8" stroke="#2a0a4a" stroke-width="0.6"/>
<line x1="492.60" y1="137.0" x2="505.10" y2="137.0" stroke="#1a1aff" stroke-width="1.3" stroke-dasharray="2.2 0.8"/>
<text x="507.20" y="116.50" class="lg">ANN</text>
<text x="507.20" y="124.10" class="lg">Formula</text>
<text x="507.20" y="131.70" class="lg">AISC</text>
<text x="507.20" y="139.20" class="lg">X=Y</text>
<line x1="72.73" y1="199.2" x2="72.73" y2="330.9" stroke="#ebebeb" stroke-width="0.6"/>
<text x="72.73" y="343.10" text-anchor="middle" class="tk">5</text>
<line x1="118.15" y1="199.2" x2="118.15" y2="330.9" stroke="#ebebeb" stroke-width="0.6"/>
<text x="118.15" y="343.10" text-anchor="middle" class="tk">10</text>
<line x1="163.57" y1="199.2" x2="163.57" y2="330.9" stroke="#ebebeb" stroke-width="0.6"/>
<text x="163.57" y="343.10" text-anchor="middle" class="tk">15</text>
<line x1="208.99" y1="199.2" x2="208.99" y2="330.9" stroke="#ebebeb" stroke-width="0.6"/>
<text x="208.99" y="343.10" text-anchor="middle" class="tk">20</text>
<line x1="254.41" y1="199.2" x2="254.41" y2="330.9" stroke="#ebebeb" stroke-width="0.6"/>
<text x="254.41" y="343.10" text-anchor="middle" class="tk">25</text>
<line x1="299.83" y1="199.2" x2="299.83" y2="330.9" stroke="#ebebeb" stroke-width="0.6"/>
<text x="299.83" y="343.10" text-anchor="middle" class="tk">30</text>
<line x1="345.24" y1="199.2" x2="345.24" y2="330.9" stroke="#ebebeb" stroke-width="0.6"/>
<text x="345.24" y="343.10" text-anchor="middle" class="tk">35</text>
<line x1="390.66" y1="199.2" x2="390.66" y2="330.9" stroke="#ebebeb" stroke-width="0.6"/>
<text x="390.66" y="343.10" text-anchor="middle" class="tk">40</text>
<line x1="436.08" y1="199.2" x2="436.08" y2="330.9" stroke="#ebebeb" stroke-width="0.6"/>
<text x="436.08" y="343.10" text-anchor="middle" class="tk">45</text>
<line x1="481.50" y1="199.2" x2="481.50" y2="330.9" stroke="#ebebeb" stroke-width="0.6"/>
<text x="481.50" y="343.10" text-anchor="middle" class="tk">50</text>
<line x1="36.4" y1="327.90" x2="481.5" y2="327.90" stroke="#ebebeb" stroke-width="0.6"/>
<text x="33.80" y="330.90" text-anchor="end" class="tk">1000</text>
<line x1="36.4" y1="306.24" x2="481.5" y2="306.24" stroke="#ebebeb" stroke-width="0.6"/>
<text x="33.80" y="309.24" text-anchor="end" class="tk">2000</text>
<line x1="36.4" y1="284.58" x2="481.5" y2="284.58" stroke="#ebebeb" stroke-width="0.6"/>
<text x="33.80" y="287.58" text-anchor="end" class="tk">3000</text>
<line x1="36.4" y1="262.92" x2="481.5" y2="262.92" stroke="#ebebeb" stroke-width="0.6"/>
<text x="33.80" y="265.92" text-anchor="end" class="tk">4000</text>
<line x1="36.4" y1="241.26" x2="481.5" y2="241.26" stroke="#ebebeb" stroke-width="0.6"/>
<text x="33.80" y="244.26" text-anchor="end" class="tk">5000</text>
<line x1="36.4" y1="219.60" x2="481.5" y2="219.60" stroke="#ebebeb" stroke-width="0.6"/>
<text x="33.80" y="222.60" text-anchor="end" class="tk">6000</text>
<rect x="36.4" y="199.2" width="445.10" height="131.70" fill="none" stroke="#b4b4b4" stroke-width="0.9"/>
<path d="M72.73 330.9v-4.0M72.73 199.2v4.0" stroke="#a0a0a0" stroke-width="0.7"/>
<path d="M118.15 330.9v-4.0M118.15 199.2v4.0" stroke="#a0a0a0" stroke-width="0.7"/>
<path d="M163.57 330.9v-4.0M163.57 199.2v4.0" stroke="#a0a0a0" stroke-width="0.7"/>
<path d="M208.99 330.9v-4.0M208.99 199.2v4.0" stroke="#a0a0a0" stroke-width="0.7"/>
<path d="M254.41 330.9v-4.0M254.41 199.2v4.0" stroke="#a0a0a0" stroke-width="0.7"/>
<path d="M299.83 330.9v-4.0M299.83 199.2v4.0" stroke="#a0a0a0" stroke-width="0.7"/>
<path d="M345.24 330.9v-4.0M345.24 199.2v4.0" stroke="#a0a0a0" stroke-width="0.7"/>
<path d="M390.66 330.9v-4.0M390.66 199.2v4.0" stroke="#a0a0a0" stroke-width="0.7"/>
<path d="M436.08 330.9v-4.0M436.08 199.2v4.0" stroke="#a0a0a0" stroke-width="0.7"/>
<path d="M481.50 330.9v-4.0M481.50 199.2v4.0" stroke="#a0a0a0" stroke-width="0.7"/>
<path d="M36.4 327.90h4.0M481.5 327.90h-4.0" stroke="#a0a0a0" stroke-width="0.7"/>
<path d="M36.4 306.24h4.0M481.5 306.24h-4.0" stroke="#a0a0a0" stroke-width="0.7"/>
<path d="M36.4 284.58h4.0M481.5 284.58h-4.0" stroke="#a0a0a0" stroke-width="0.7"/>
<path d="M36.4 262.92h4.0M481.5 262.92h-4.0" stroke="#a0a0a0" stroke-width="0.7"/>
<path d="M36.4 241.26h4.0M481.5 241.26h-4.0" stroke="#a0a0a0" stroke-width="0.7"/>
<path d="M36.4 219.60h4.0M481.5 219.60h-4.0" stroke="#a0a0a0" stroke-width="0.7"/>
<text x="258.95" y="195.5" text-anchor="middle" class="ttl">ALL Data</text>
<text x="258.95" y="354.5" text-anchor="middle" class="lab">Data Number</text>
<text transform="translate(12.00,265.05) rotate(-90)" text-anchor="middle" class="lab">Moment (kN.m)</text>
<clipPath id="bc"><rect x="36.4" y="199.2" width="445.10" height="131.70"/></clipPath>
<g clip-path="url(#bc)" fill="none" stroke-linejoin="round">
<polyline points="36.40,313.73 45.48,308.08 54.57,315.27 63.65,311.14 72.73,308.84 81.82,282.46 90.90,330.28 99.99,199.75 109.07,228.18 118.15,309.27 127.24,259.24 136.32,312.87 145.40,287.50 154.49,305.46 163.57,326.82 172.66,329.07 181.74,313.02 190.82,319.63 199.91,265.52 208.99,200.54 218.07,266.60 227.16,200.11 236.24,288.31 245.32,327.19 254.41,319.63 263.49,294.11 272.58,301.43 281.66,312.46 290.74,277.15 299.83,298.88 308.91,318.69 317.99,315.86 327.08,267.25 336.16,214.19 345.24,330.00 354.33,301.43 363.41,287.50 372.50,330.61 381.58,326.75 390.66,315.86 399.75,291.29 408.83,302.38 417.91,218.63 427.00,208.29 436.08,330.50 445.17,199.75 454.25,231.84" stroke="#000000" stroke-width="1.1" stroke-dasharray="2.6 0.9 0.8 0.9"/>
<polyline points="36.40,306.09 45.48,298.90 54.57,311.89 63.65,311.14 72.73,306.09 81.82,282.07 90.90,330.28 99.99,213.02 109.07,214.34 118.15,314.90 127.24,252.05 136.32,314.73 145.40,281.83 154.49,303.58 163.57,327.19 172.66,330.04 181.74,309.25 190.82,315.86 199.91,259.13 208.99,220.60 218.07,258.63 227.16,211.69 236.24,277.06 245.32,326.82 254.41,313.02 263.49,293.18 272.58,293.09 281.66,311.14 290.74,301.69 299.83,313.02 308.91,315.86 317.99,311.14 327.08,259.67 336.16,208.77 345.24,330.00 354.33,291.29 363.41,299.81 372.50,330.72 381.58,330.28 390.66,312.09 399.75,280.33 408.83,302.93 417.91,220.57 427.00,212.45 436.08,330.61 445.17,213.04 454.25,216.83" stroke="#ff0000" stroke-width="1.15"/>
<polyline points="36.40,299.96 45.48,296.90 54.57,319.86 63.65,304.07 72.73,301.19 81.82,298.44 90.90,330.28 99.99,199.75 109.07,199.75 118.15,301.69 127.24,235.78 136.32,308.54 145.40,297.90 154.49,301.69 163.57,321.51 172.66,327.19 181.74,319.63 190.82,310.18 199.91,248.30 208.99,200.37 218.07,249.92 227.16,199.75 236.24,284.58 245.32,326.23 254.41,315.86 263.49,295.09 272.58,291.49 281.66,304.53 290.74,299.81 299.83,309.25 308.91,309.25 317.99,331.47 327.08,248.84 336.16,199.80 345.24,330.00 354.33,290.08 363.41,298.85 372.50,330.82 381.58,327.68 390.66,325.30 399.75,283.28 408.83,300.61 417.91,199.75 427.00,199.75 436.08,330.72 445.17,199.75 454.25,199.75" stroke="#0000ff" stroke-width="1.2" stroke-dasharray="3 1.8"/>
<polyline points="36.40,311.89 45.48,318.02 54.57,324.13 63.65,311.59 72.73,311.59 81.82,300.44 90.90,330.28 99.99,240.44 109.07,240.44 118.15,309.25 127.24,268.31 136.32,310.20 145.40,301.13 154.49,310.18 163.57,326.23 172.66,329.07 181.74,321.51 190.82,323.42 199.91,281.87 208.99,235.69 218.07,281.18 227.16,237.58 236.24,295.41 245.32,329.07 254.41,321.51 263.49,299.81 272.58,304.29 281.66,311.14 290.74,290.36 299.83,307.37 308.91,322.46 317.99,321.51 327.08,282.41 336.16,224.37 345.24,330.00 354.33,302.21 363.41,295.09 372.50,330.72 381.58,327.88 390.66,321.51 399.75,295.09 408.83,306.02 417.91,255.56 427.00,238.92 436.08,330.50 445.17,238.92 454.25,243.86" stroke="#00f000" stroke-width="1.1" stroke-dasharray="2.6 0.9 0.8 0.9"/>
</g>
<rect x="489.6" y="199.4" width="56.4" height="31.2" fill="#fff" stroke="#b4b4b4" stroke-width="0.8"/>
<line x1="491.8" y1="204.2" x2="505" y2="204.2" stroke="#000000" stroke-width="1.1" stroke-dasharray="2.6 0.9 0.8 0.9"/>
<text x="507" y="206.40" class="lg">Experimental</text>
<line x1="491.8" y1="211.6" x2="505" y2="211.6" stroke="#ff0000" stroke-width="1.15"/>
<text x="507" y="213.80" class="lg">ANN</text>
<line x1="491.8" y1="219.0" x2="505" y2="219.0" stroke="#0000ff" stroke-width="1.2" stroke-dasharray="3 4.4"/>
<text x="507" y="221.20" class="lg">Formula</text>
<line x1="491.8" y1="226.4" x2="505" y2="226.4" stroke="#00f000" stroke-width="1.1" stroke-dasharray="2.6 0.9 0.8 0.9"/>
<text x="507" y="228.60" class="lg">AISC</text>
</svg>
</body></html>
